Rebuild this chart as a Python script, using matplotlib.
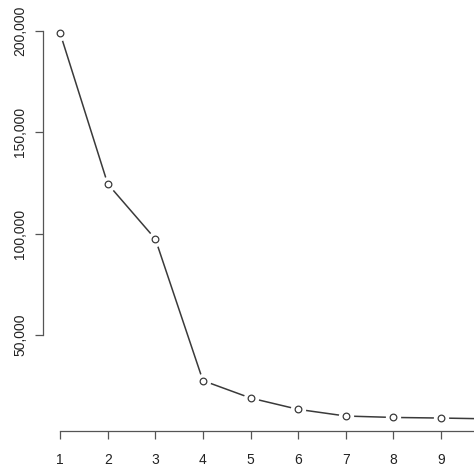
import matplotlib
matplotlib.use("Agg")
import matplotlib.pyplot as plt
from matplotlib.ticker import FuncFormatter

# number of clusters vs within-cluster sum of squares
k = [1, 2, 3, 4, 5, 6, 7, 8, 9, 10]
wss = [199000, 124500, 97300, 27300, 18700, 13100, 9800, 9100, 8800, 8400]

y_ticks = [50000, 100000, 150000, 200000]
x_ticks = [1, 2, 3, 4, 5, 6, 7, 8, 9]  # tick 10 falls outside the cropped picture

plt.rcParams['font.family'] = ['Liberation Sans', 'DejaVu Sans']

fig = plt.figure(figsize=(4.74, 4.74), dpi=100)
W = 474.0
# plot region in pixels: left 43, bottom axis at 431, top 17, right beyond the edge
left, bottom_px, top_px = 43, 431, 17
px_per_x = 47.6
xlim = (0.64, 10.36)
width_px = (xlim[1] - xlim[0]) * px_per_x
ax = fig.add_axes([left / W, (W - bottom_px) / W, width_px / W, (bottom_px - top_px) / W])

col = '#3a3a3a'
ax.plot(k, wss, '-', color=col, lw=1.1, zorder=1)
ax.plot(k, wss, 'o', ms=10, mfc='white', mec='white', zorder=2)
ax.plot(k, wss, 'o', ms=4.8, mfc='white', mec=col, mew=0.9, zorder=3)

ax.set_xlim(*xlim)
ax.set_ylim(2400, 207000)

for s in ['top', 'right']:
    ax.spines[s].set_visible(False)
ax.spines['left'].set_bounds(50000, 200000)
ax.spines['bottom'].set_bounds(1, 10)
for s in ['left', 'bottom']:
    ax.spines[s].set_color('#555555')
    ax.spines[s].set_linewidth(0.9)

ax.set_xticks(x_ticks)
ax.set_yticks(y_ticks)
ax.yaxis.set_major_formatter(FuncFormatter(lambda v, p: f"{int(v):,}"))
ax.tick_params(axis='both', colors='#555555', labelcolor='#222222', width=0.9,
               length=5.5, labelsize=10)
ax.tick_params(axis='x', pad=10)
ax.tick_params(axis='y', pad=6)
for lab in ax.get_yticklabels():
    lab.set_rotation(90)
    lab.set_va('center')

fig.savefig('out.png', dpi=100)
